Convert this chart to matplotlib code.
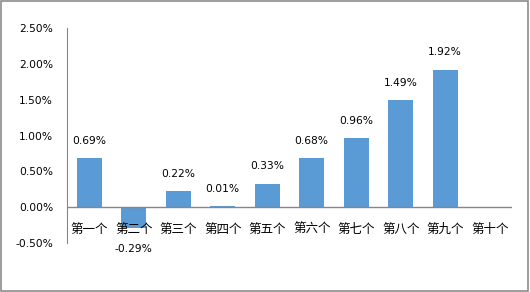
import matplotlib
matplotlib.use("Agg")
import matplotlib.pyplot as plt
import numpy as np
from matplotlib.patches import Rectangle

categories = ["第一个", "第二个", "第三个", "第四个", "第五个", "第六个", "第七个", "第八个", "第九个", "第十个"]
values = [0.69, -0.29, 0.22, 0.01, 0.33, 0.68, 0.96, 1.49, 1.92, np.nan]
yticks = [-0.5, 0.0, 0.5, 1.0, 1.5, 2.0, 2.5]

plt.rcParams['font.family'] = ['Noto Sans CJK SC', 'DejaVu Sans']

fig = plt.figure(figsize=(5.3, 2.92), dpi=100)
fig.patches.append(Rectangle((0.002, 0.003), 0.994, 0.993, transform=fig.transFigure,
                             fill=False, edgecolor='#8c8c8c', linewidth=1.2))
ax = fig.add_axes([0.1264, 0.1678, 0.8396, 0.7362])

x = np.arange(len(categories))
ax.bar(x, values, width=0.56, color='#5B9BD5', zorder=2)

ax.set_xlim(-0.5, len(categories) - 0.5)
ax.set_ylim(-0.5, 2.5)
ax.set_yticks(yticks)
ax.set_yticklabels([f"{v:.2f}%" for v in yticks], family='DejaVu Sans', fontsize=7.7)
ax.tick_params(axis='y', length=0, pad=10)
ax.set_xticks([])

for s in ['top', 'right', 'bottom']:
    ax.spines[s].set_visible(False)
ax.spines['left'].set_color('#868686')
ax.axhline(0, color='#868686', linewidth=1, zorder=3)

for xi, c in zip(x, categories):
    ax.text(xi, -0.355, c, ha='center', va='baseline', fontsize=9,
            family=['Noto Sans CJK SC'], zorder=4)

for xi, v in zip(x, values):
    if np.isnan(v):
        continue
    if v >= 0:
        ax.text(xi, v + 0.24, f"{v:.2f}%", ha='center', va='center', fontsize=7.7,
                family='DejaVu Sans')
    else:
        ax.text(xi, -0.58, f"{v:.2f}%", ha='center', va='center', fontsize=7.7,
                family='DejaVu Sans', clip_on=False)

fig.savefig("out.png", dpi=100)
